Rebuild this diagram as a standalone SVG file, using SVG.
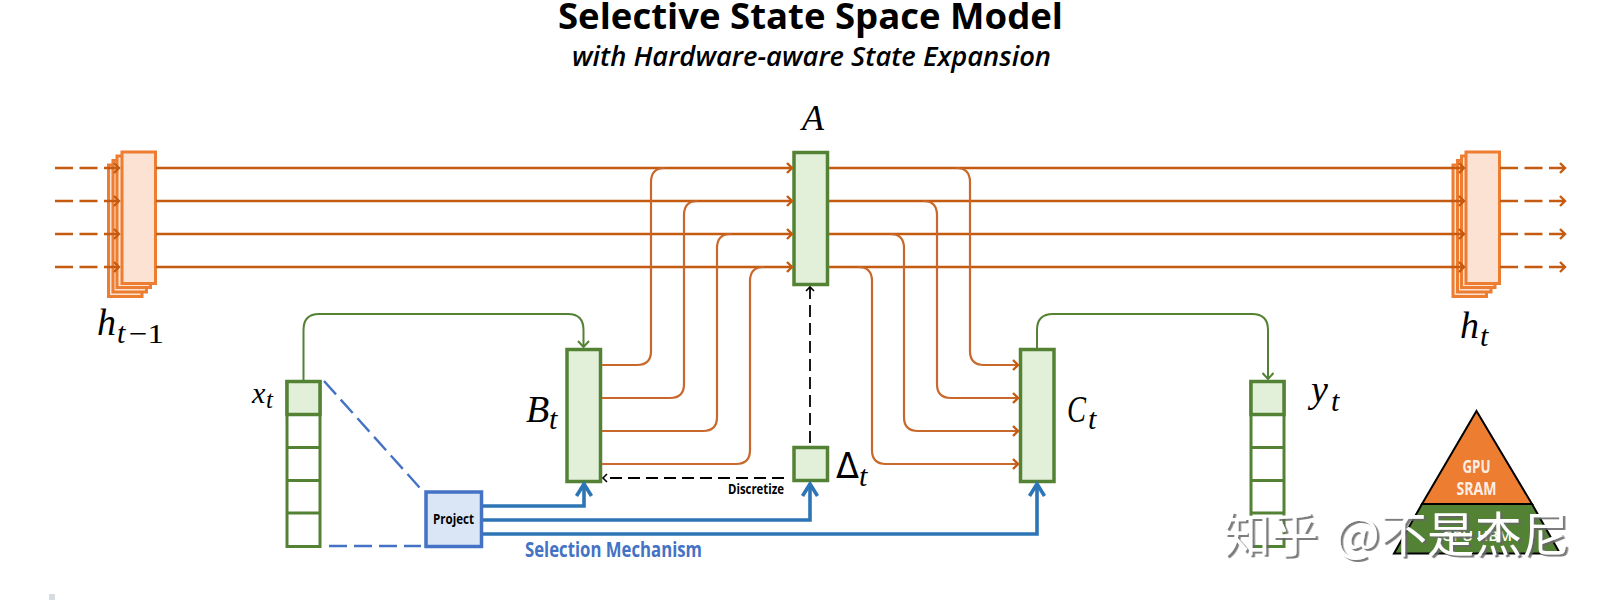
<svg xmlns="http://www.w3.org/2000/svg" width="1612" height="600" viewBox="0 0 1612 600">
<style>
text{font-family:"Open Sans","Liberation Sans",sans-serif}
.m{font-family:"Liberation Serif","DejaVu Serif",serif;font-style:italic;fill:#000}
.stack{fill:#fbe2d2;stroke:#ed7d31;stroke-width:3}
.g{fill:#e2f0d9;stroke:#548235;stroke-width:3.5}
.cell{fill:#fff;stroke:#548235;stroke-width:3}
.o{fill:none;stroke:#c55a11;stroke-width:2.4}
.oc{fill:none;stroke:#c8682b;stroke-width:2.2}
.od{fill:none;stroke:#c55a11;stroke-width:2.6;stroke-dasharray:18 6.5}
.gl{fill:none;stroke:#548235;stroke-width:2;marker-end:url(#ag)}
.bl{fill:none;stroke:#2e75b6;stroke-width:3.6;marker-end:url(#ab)}
.bd{fill:none;stroke:#4472c4;stroke-width:2.4;stroke-dasharray:18 7}
.kd{fill:none;stroke:#000;stroke-width:1.8;stroke-dasharray:12 6;marker-end:url(#ak)}
.ae{marker-end:url(#ao)}
</style>
<defs>
<marker id="ao" markerUnits="userSpaceOnUse" markerWidth="20" markerHeight="20" refX="10" refY="10" orient="auto" overflow="visible"><path d="M5 5L10 10L5 15" fill="none" stroke="#c55a11" stroke-width="2.4"/></marker>
<marker id="ag" markerUnits="userSpaceOnUse" markerWidth="20" markerHeight="20" refX="10" refY="10" orient="auto" overflow="visible"><path d="M4 4.5L10 10L4 15.5" fill="none" stroke="#548235" stroke-width="2"/></marker>
<marker id="ab" markerUnits="userSpaceOnUse" markerWidth="24" markerHeight="24" refX="12" refY="12" orient="auto" overflow="visible"><path d="M0 4.500L12 12L0 19.500" fill="none" stroke="#2e75b6" stroke-width="3.6"/></marker>
<marker id="ak" markerUnits="userSpaceOnUse" markerWidth="12" markerHeight="12" refX="6" refY="6" orient="auto" overflow="visible"><path d="M2 2L6 6L2 10" fill="none" stroke="#000" stroke-width="1.6"/></marker>
<filter id="wm" x="-5%" y="-20%" width="110%" height="140%"><feDropShadow dx="2.5" dy="2" stdDeviation="0.7" flood-color="#666" flood-opacity="0.85"/></filter>
</defs>
<rect width="1612" height="600" fill="#fff"/>

<g id="title">
<text x="558" y="29" font-size="36" font-weight="700" textLength="505" lengthAdjust="spacingAndGlyphs" fill="#000">Selective State Space Model</text>
<text x="572" y="65.5" font-size="27" font-weight="600" font-style="italic" textLength="479" lengthAdjust="spacingAndGlyphs" fill="#000">with Hardware-aware State Expansion</text>
</g>

<g id="h-prev">
<rect class="stack" x="108.500" y="165" width="33.500" height="131.500"/>
<rect class="stack" x="113" y="160.500" width="33.500" height="131.500"/>
<rect class="stack" x="117" y="156" width="33.500" height="131.500"/>
<rect class="stack" x="122" y="152" width="33.500" height="131.500"/>
<text class="m" x="97" y="335" font-size="38">h</text>
<text class="m" x="117" y="343" font-size="30">t</text>
<text x="129" y="343" font-size="28" style="font-family:'Liberation Serif',serif" textLength="35" lengthAdjust="spacingAndGlyphs">−1</text>
</g>
<g id="h-next">
<rect class="stack" x="1453" y="165" width="33.500" height="131.500"/>
<rect class="stack" x="1457.500" y="160.500" width="33.500" height="131.500"/>
<rect class="stack" x="1461.500" y="156" width="33.500" height="131.500"/>
<rect class="stack" x="1466" y="152" width="33.500" height="131.500"/>
<text class="m" x="1460" y="338" font-size="38">h</text>
<text class="m" x="1480" y="346" font-size="30">t</text>
</g>
<g id="A">
<rect class="g" x="794" y="152.500" width="33.500" height="132"/>
<text class="m" x="802" y="130" font-size="36">A</text>
</g>
<g id="B">
<rect class="g" x="567" y="349.500" width="33.500" height="132"/>
<text class="m" x="526" y="422" font-size="38">B</text>
<text class="m" x="549" y="429" font-size="30">t</text>
</g>
<g id="C">
<rect class="g" x="1020.500" y="349.500" width="33.500" height="132"/>
<text class="m" x="1067" y="422" font-size="38" textLength="19" lengthAdjust="spacingAndGlyphs">C</text>
<text class="m" x="1088" y="429" font-size="30">t</text>
</g>
<g id="delta">
<rect class="g" x="794" y="447.500" width="33.500" height="33"/>
<text x="836" y="478" font-size="36" style="font-family:'DejaVu Sans',sans-serif" textLength="23" lengthAdjust="spacingAndGlyphs">Δ</text>
<text class="m" x="859" y="486" font-size="30">t</text>
</g>
<g id="x">
<rect class="cell" x="287" y="381.500" width="33" height="165"/>
<rect class="g" x="287" y="381.500" width="33" height="33"/>
<path d="M287 447.500H320M287 480.500H320M287 513H320" fill="none" stroke="#548235" stroke-width="3"/>
<text class="m" x="252" y="403" font-size="30">x</text>
<text class="m" x="266" y="408" font-size="25">t</text>
</g>
<g id="y">
<rect class="cell" x="1251" y="381.500" width="33" height="165"/>
<rect class="g" x="1251" y="381.500" width="33" height="33"/>
<path d="M1251 447.500H1284M1251 480.500H1284M1251 513H1284" fill="none" stroke="#548235" stroke-width="3"/>
<text class="m" x="1311" y="402" font-size="38">y</text>
<text class="m" x="1331" y="411" font-size="30">t</text>
</g>
<g id="project">
<rect x="426" y="492" width="55.500" height="54.500" fill="#dae6f6" stroke="#4472c4" stroke-width="3.500"/>
<text x="433" y="524" font-size="15" font-weight="700" textLength="41" lengthAdjust="spacingAndGlyphs" fill="#000">Project</text>
</g>

<g id="connectors">
<path class="od ae" d="M55 168H119"/><path class="od ae" d="M55 201H119"/><path class="od ae" d="M55 234H119"/><path class="od ae" d="M55 267H119"/>
<path class="od ae" d="M1500 168H1565"/><path class="od ae" d="M1500 201H1565"/><path class="od ae" d="M1500 234H1565"/><path class="od ae" d="M1500 267H1565"/>
<path class="o ae" d="M156 168H792"/><path class="o ae" d="M156 201H792"/><path class="o ae" d="M156 234H792"/><path class="o ae" d="M156 267H792"/>
<path class="o ae" d="M829 168H1464"/><path class="o ae" d="M829 201H1464"/><path class="o ae" d="M829 234H1464"/><path class="o ae" d="M829 267H1464"/>
<path class="oc" d="M602 365H637Q651 365 651 351V182Q651 168 665 168"/>
<path class="oc" d="M602 398H670Q684 398 684 384V215Q684 201 698 201"/>
<path class="oc" d="M602 431H703Q717 431 717 417V248Q717 234 731 234"/>
<path class="oc" d="M602 464H736Q750 464 750 450V281Q750 267 764 267"/>
<path class="oc ae" d="M956 168Q970 168 970 182V351Q970 365 984 365H1018"/>
<path class="oc ae" d="M923 201Q937 201 937 215V384Q937 398 951 398H1018"/>
<path class="oc ae" d="M890 234Q904 234 904 248V417Q904 431 918 431H1018"/>
<path class="oc ae" d="M858 267Q872 267 872 281V450Q872 464 886 464H1018"/>
<path class="gl" d="M303.500 380V330Q303.500 314 319 314H568Q583.500 314 583.500 330V347"/>
<path class="gl" d="M1037 348V330Q1037 314 1053 314H1252Q1268 314 1268 330V379"/>
<path class="kd" d="M810 443V287"/>
<path class="kd" d="M784 478H603"/>
<path class="bl" d="M483 506H584V484"/>
<path class="bl" d="M483 520H810V484"/>
<path class="bl" d="M483 534H1037V484"/>
<path class="bd" d="M324 381L420 488"/>
<path class="bd" d="M329 546H421"/>
</g>

<text x="728" y="494" font-size="15" font-weight="700" textLength="56" lengthAdjust="spacingAndGlyphs" fill="#000">Discretize</text>
<text x="525" y="557" font-size="21" font-weight="700" textLength="177" lengthAdjust="spacingAndGlyphs" fill="#4472c4">Selection Mechanism</text>

<g id="pyramid">
<path d="M1476.500 411L1532 504H1422Z" fill="#ed7d31" stroke="#000" stroke-width="2"/>
<path d="M1422 504H1532L1560 553.500H1394Z" fill="#548235" stroke="#000" stroke-width="2"/>
<text x="1476.500" y="473" font-size="17" font-weight="700" fill="#fff" fill-opacity="0.9" text-anchor="middle" textLength="28" lengthAdjust="spacingAndGlyphs">GPU</text>
<text x="1476.500" y="495" font-size="17" font-weight="700" fill="#fff" fill-opacity="0.9" text-anchor="middle" textLength="40" lengthAdjust="spacingAndGlyphs">SRAM</text>
<text x="1477" y="541" font-size="15" font-weight="600" fill="#fff" text-anchor="middle" textLength="70" lengthAdjust="spacingAndGlyphs">GPU HBM</text>
</g>

<rect x="49" y="594" width="6" height="6" fill="#d5dde3"/>

<text x="1223" y="552" font-size="47.500" fill="#fff" filter="url(#wm)" style="font-family:'Noto Sans CJK SC',sans-serif">知乎 <tspan dx="6">@不是杰尼</tspan></text>
</svg>
